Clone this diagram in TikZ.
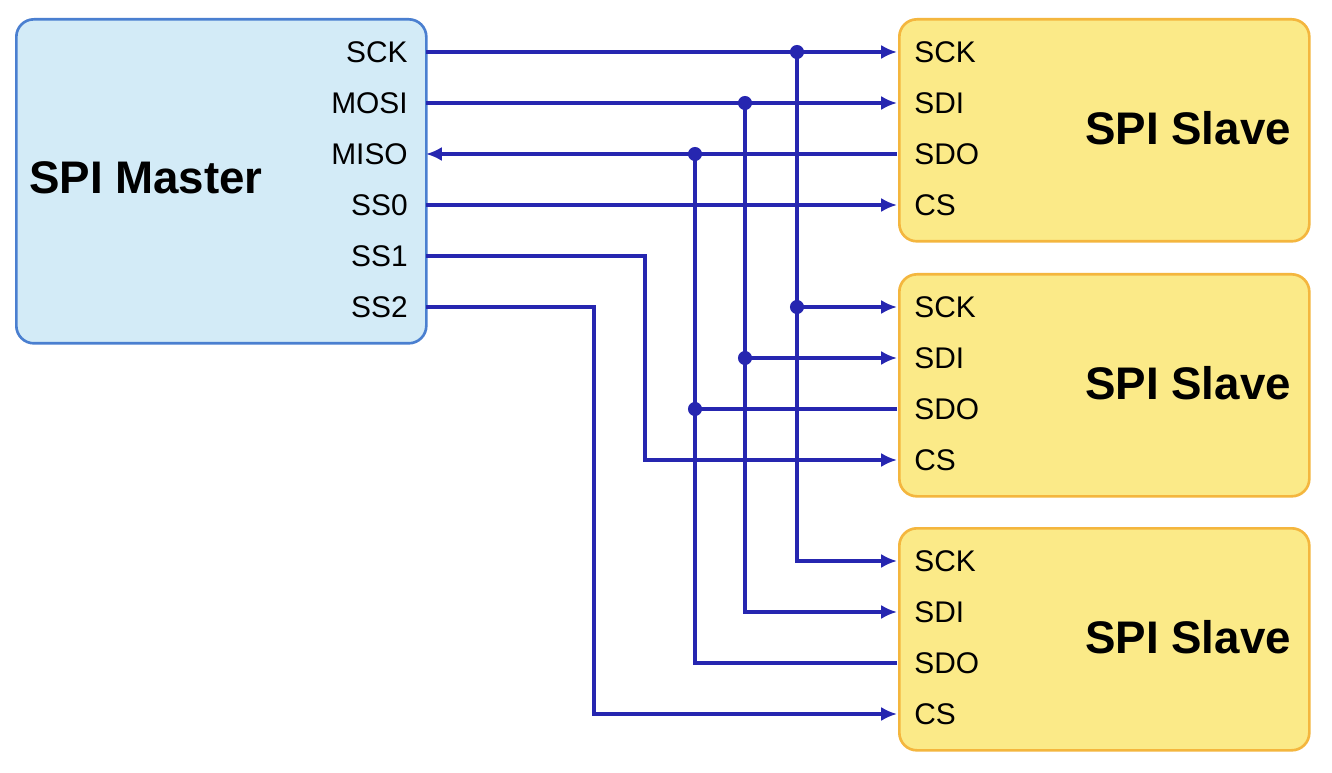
\documentclass[tikz,border=0pt]{standalone}
\usepackage{fontspec}
\setmainfont{Liberation Sans}
\usetikzlibrary{arrows.meta}
\definecolor{wire}{HTML}{2626B0}
\definecolor{mfill}{HTML}{D3EBF7}
\definecolor{mdraw}{HTML}{4A7FD0}
\definecolor{sfill}{HTML}{FBEA88}
\definecolor{sdraw}{HTML}{F4B63E}
\begin{document}
\begin{tikzpicture}[x=0.02cm,y=-0.02cm,
  w/.style={draw=wire,line width=2pt},
  a/.style={w,-{Latex[length=9pt,width=8pt]}},
  dot/.style={circle,fill=wire,inner sep=0pt,minimum size=8pt},
  pin/.style={font=\fontsize{17}{19}\selectfont,inner sep=0pt},
  title/.style={font=\fontsize{26}{30}\selectfont\bfseries}]
\useasboundingbox (0,0) rectangle (1332,773);
\fill[white] (0,0) rectangle (1332,773);
\node[draw=mdraw,fill=mfill,line width=1.5pt,rounded corners=10pt,minimum width=410*0.02cm,minimum height=324*0.02cm,anchor=north west] (M) at (15,18) {};
\node[title] at (146,178) {SPI Master};
\foreach \n/\t/\y in {sck/SCK/52,mosi/MOSI/103,miso/MISO/154,ss0/SS0/205,ss1/SS1/256,ss2/SS2/307}{
  \node[pin,anchor=east] at (408,\y) {\t};
  \coordinate (m\n) at (426,\y);}
\foreach \i/\top in {1/18,2/273,3/527}{
  \node[draw=sdraw,fill=sfill,line width=1.5pt,rounded corners=10pt,minimum width=410*0.02cm,minimum height=222*0.02cm,anchor=north west] (S\i) at (898,\top) {};
  \node[title] at (1188,\top+110) {SPI Slave};
  \foreach \n/\t/\d in {sck/SCK/34,sdi/SDI/85,sdo/SDO/136,cs/CS/187}{
    \node[pin,anchor=west] at (914,\top+\d) {\t};
    \coordinate (s\i\n) at (897,\top+\d);}}
% SCK
\draw[a] (msck) -- (s1sck);
\draw[a] (797,52) |- (s2sck);
\draw[a] (797,307) |- (s3sck);
% MOSI
\draw[a] (mmosi) -- (s1sdi);
\draw[a] (745,103) |- (s2sdi);
\draw[a] (745,358) |- (s3sdi);
% MISO
\draw[a] (s1sdo) -- (mmiso);
\draw[w] (s2sdo) -- (695,409);
\draw[w] (s3sdo) -| (695,154);
% SS
\draw[a] (mss0) -- (s1cs);
\draw[a] (mss1) -- (645,256) |- (s2cs);
\draw[a] (mss2) -- (594,307) |- (s3cs);
\foreach \p in {(797,52),(745,103),(695,154),(797,307),(745,358),(695,409)}
  \node[dot] at \p {};
\end{tikzpicture}
\end{document}
